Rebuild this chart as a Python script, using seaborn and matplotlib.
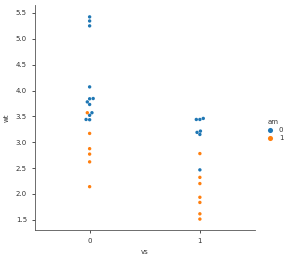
import matplotlib
matplotlib.use("Agg")
import matplotlib.pyplot as plt
import seaborn as sns
import pandas as pd

wt = [2.620, 2.875, 2.320, 3.215, 3.440, 3.460, 3.570, 3.190, 3.150, 3.440,
      3.440, 4.070, 3.730, 3.780, 5.250, 5.424, 5.345, 2.200, 1.615, 1.835,
      2.465, 3.520, 3.435, 3.840, 3.845, 1.935, 2.140, 1.513, 3.170, 2.770,
      3.570, 2.780]
vs = [0, 0, 1, 1, 0, 1, 0, 1, 1, 1, 1, 0, 0, 0, 0, 0, 0, 1, 1, 1,
      1, 0, 0, 0, 0, 1, 0, 1, 0, 0, 0, 1]
am = [1, 1, 1, 0, 0, 0, 0, 0, 0, 0, 0, 0, 0, 0, 0, 0, 0, 1, 1, 1,
      0, 0, 0, 0, 0, 1, 1, 1, 1, 1, 1, 1]

df = pd.DataFrame({"wt": wt, "vs": vs, "am": am})

sns.set_style("ticks")
plt.rcParams["font.family"] = ["DejaVu Sans"]
plt.rcParams.update({"font.size": 5, "axes.labelsize": 5, "xtick.labelsize": 5,
                     "ytick.labelsize": 5, "legend.fontsize": 5,
                     "legend.title_fontsize": 5, "axes.linewidth": 0.6,
                     "xtick.major.width": 0.6, "ytick.major.width": 0.6,
                     "xtick.major.size": 2, "ytick.major.size": 2,
                     "axes.edgecolor": "#555555", "text.color": "#333333",
                     "axes.labelcolor": "#333333", "xtick.color": "#333333",
                     "ytick.color": "#333333"})

g = sns.catplot(data=df, x="vs", y="wt", hue="am", kind="swarm", s=6,
                height=2.6, aspect=1.0)
g.figure.set_size_inches(3.0, 2.6)
g.figure.subplots_adjust(left=0.115, right=0.85, top=0.98, bottom=0.115)
ax = g.ax
ax.set_ylim(1.3, 5.65)
ax.set_yticks([1.5, 2.0, 2.5, 3.0, 3.5, 4.0, 4.5, 5.0, 5.5])
sns.move_legend(g, "center left", bbox_to_anchor=(0.855, 0.5), frameon=False,
                markerscale=1.5, handletextpad=0.3, labelspacing=0.3)
g.figure.savefig("out.png", dpi=100)
